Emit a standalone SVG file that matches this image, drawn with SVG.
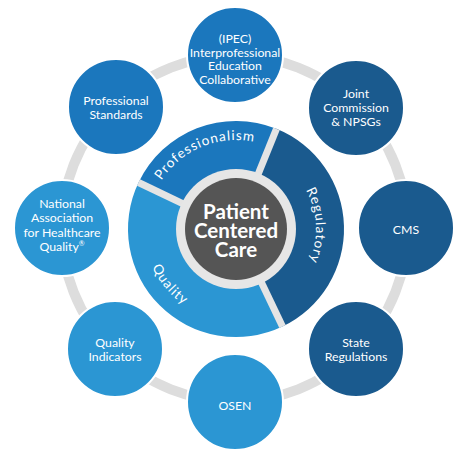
<svg xmlns="http://www.w3.org/2000/svg" width="474" height="469" viewBox="0 0 474 469">
<style>
.lbl{font-family:Lato,"Noto Sans","DejaVu Sans",sans-serif;font-size:12.3px;fill:#ffffff;text-anchor:middle}
.seg{font-family:Lato,"Noto Sans","DejaVu Sans",sans-serif;font-size:13.5px;fill:#ffffff;letter-spacing:1px}
.ctr{font-family:Lato,"Noto Sans","DejaVu Sans",sans-serif;font-size:20.5px;font-weight:bold;fill:#ffffff;text-anchor:middle}
.light{fill:#2b96d3;stroke:#ffffff;stroke-width:2}
.mid{fill:#1b77bd;stroke:#ffffff;stroke-width:2}
.dark{fill:#1a5a8e;stroke:#ffffff;stroke-width:2}
.div{stroke:#e4e4e4;stroke-width:7;fill:none}
</style>
<defs>
<path id="pProf" d="M 150.03 205.97 A 89 89 0 0 1 280.5 151.93"/>
<path id="pReg" d="M 287.42 167.72 A 80 80 0 0 1 292.57 285.57"/>
<path id="pQual" d="M 144.35 220.98 A 92 92 0 0 0 227.98 320.65"/>
</defs>
<rect width="474" height="469" fill="#ffffff"/>
<g id="connectors">
<circle cx="234.5" cy="228.5" r="173" fill="none" stroke="#dddddd" stroke-width="10"/>
</g>
<g id="core">
<path id="seg-regulatory" d="M 276.46 128.86 A 108 108 0 0 1 282.49 326.48 L 261.40 282.25 A 59 59 0 0 0 258.10 174.30 Z" fill="#1a5a8e"/>
<path id="seg-quality" d="M 282.49 326.48 A 108 108 0 0 1 138.52 182.51 L 182.75 203.60 A 59 59 0 0 0 261.40 282.25 Z" fill="#2b96d3"/>
<path id="seg-professionalism" d="M 138.52 182.51 A 108 108 0 0 1 276.46 128.86 L 258.10 174.30 A 59 59 0 0 0 182.75 203.60 Z" fill="#1b77bd"/>
<line class="div" x1="256.6" y1="178.0" x2="276.46" y2="128.86"/>
<line class="div" x1="259.68" y1="278.64" x2="282.49" y2="326.48"/>
<line class="div" x1="186.36" y1="205.32" x2="138.52" y2="182.51"/>
<circle cx="236" cy="229" r="60" fill="#e6e6e6"/>
<circle cx="236" cy="229" r="51" fill="#555555"/>
<text class="ctr"><tspan x="236" y="219">Patient</tspan><tspan x="236" y="238">Centered</tspan><tspan x="236" y="256.5">Care</tspan></text>
<text class="seg"><textPath href="#pProf" startOffset="50%" text-anchor="middle">Professionalism</textPath></text>
<text class="seg"><textPath href="#pReg" startOffset="50%" text-anchor="middle">Regulatory</textPath></text>
<text class="seg"><textPath href="#pQual" startOffset="50%" text-anchor="middle">Quality</textPath></text>
</g>
<g id="ipec">
<circle class="mid" cx="235" cy="55" r="48"/>
<text class="lbl"><tspan x="235" y="43">(IPEC)</tspan><tspan x="235" y="56.5">Interprofessional</tspan><tspan x="235" y="70">Education</tspan><tspan x="235" y="83.5">Collaborative</tspan></text>
</g>
<g id="joint-commission">
<circle class="dark" cx="356" cy="108" r="48"/>
<text class="lbl"><tspan x="356" y="98">Joint</tspan><tspan x="356" y="112">Commission</tspan><tspan x="356" y="126">&amp; NPSGs</tspan></text>
</g>
<g id="cms">
<circle class="dark" cx="406" cy="228" r="48"/>
<text class="lbl" x="406" y="234">CMS</text>
</g>
<g id="state-regulations">
<circle class="dark" cx="356" cy="349" r="48"/>
<text class="lbl"><tspan x="356" y="347">State</tspan><tspan x="356" y="361">Regulations</tspan></text>
</g>
<g id="osen">
<circle class="light" cx="235" cy="402" r="48"/>
<text class="lbl" x="235" y="410">OSEN</text>
</g>
<g id="quality-indicators">
<circle class="light" cx="115" cy="349" r="48"/>
<text class="lbl"><tspan x="115" y="347">Quality</tspan><tspan x="115" y="361">Indicators</tspan></text>
</g>
<g id="national-association">
<circle class="light" cx="62" cy="228" r="48"/>
<text class="lbl"><tspan x="62" y="208">National</tspan><tspan x="62" y="222">Association</tspan><tspan x="62" y="236.5">for Healthcare</tspan><tspan x="62" y="250.5">Quality<tspan font-size="7" dy="-5">®</tspan></tspan></text>
</g>
<g id="professional-standards">
<circle class="mid" cx="116" cy="107" r="48"/>
<text class="lbl"><tspan x="116" y="104.5">Professional</tspan><tspan x="116" y="118.5">Standards</tspan></text>
</g>
</svg>
